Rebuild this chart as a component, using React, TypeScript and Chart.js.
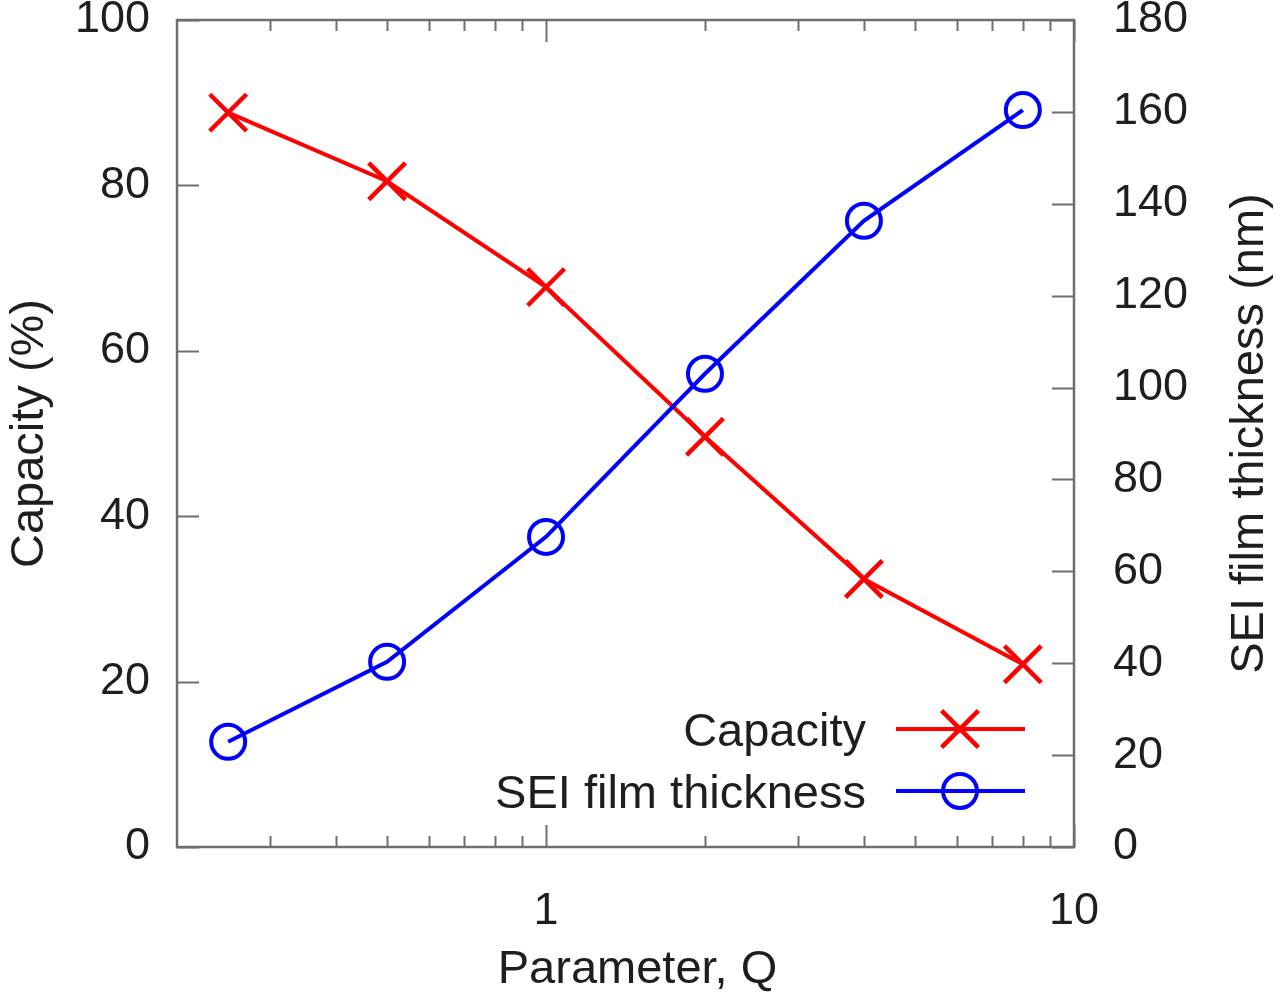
import React, { useEffect, useRef } from "react";
import { Chart, registerables } from "chart.js";

Chart.register(...registerables);

const Q_VALUES = [0.25, 0.5, 1, 2, 4, 8];
const CAPACITY = [88.8, 80.5, 67.7, 49.6, 32.4, 22.1];
const SEI_THICKNESS = [22.9, 40.3, 67.5, 103.0, 136.3, 160.4];

const X_MAJOR_TICKS = [1, 10];
const X_MINOR_TICKS = [0.3, 0.4, 0.5, 0.6, 0.7, 0.8, 0.9, 2, 3, 4, 5, 6, 7, 8, 9];
const Y_LEFT_TICKS = [0, 20, 40, 60, 80, 100];
const Y_RIGHT_TICKS = [0, 20, 40, 60, 80, 100, 120, 140, 160, 180];

const LABEL_CAPACITY = "Capacity";
const LABEL_SEI = "SEI film thickness";
const TITLE_X = "Parameter, Q";
const TITLE_Y_LEFT = "Capacity (%)";
const TITLE_Y_RIGHT = "SEI film thickness (nm)";

const RED = "#ff0000";
const BLUE = "#0000ff";
const FRAME = "#6e6e6e";
const TEXT = "#1e1e1e";
const FONT_FAMILY = "'Liberation Sans', Arial, Helvetica, sans-serif";
const TICK_FONT_SIZE = 45;
const TITLE_FONT_SIZE = 47;

const frameAndTicksPlugin = {
  id: "frameAndTicks",
  afterDatasetsDraw(chart: any) {
    const { ctx, chartArea } = chart;
    const { left, right, top, bottom } = chartArea;
    const x = chart.scales.x;
    const yl = chart.scales.y;
    const yr = chart.scales.y2;
    ctx.save();
    ctx.strokeStyle = FRAME;
    ctx.lineWidth = 2;
    ctx.lineCap = "butt";
    ctx.beginPath();
    const major = 22;
    const minor = 11;
    X_MAJOR_TICKS.forEach((v) => {
      const px = Math.round(x.getPixelForValue(v)) + 0.5;
      ctx.moveTo(px, bottom);
      ctx.lineTo(px, bottom - major);
      ctx.moveTo(px, top);
      ctx.lineTo(px, top + major);
    });
    X_MINOR_TICKS.forEach((v) => {
      const px = Math.round(x.getPixelForValue(v)) + 0.5;
      ctx.moveTo(px, bottom);
      ctx.lineTo(px, bottom - minor);
      ctx.moveTo(px, top);
      ctx.lineTo(px, top + minor);
    });
    Y_LEFT_TICKS.forEach((v) => {
      const py = Math.round(yl.getPixelForValue(v)) + 0.5;
      ctx.moveTo(left, py);
      ctx.lineTo(left + major, py);
    });
    Y_RIGHT_TICKS.forEach((v) => {
      const py = Math.round(yr.getPixelForValue(v)) + 0.5;
      ctx.moveTo(right, py);
      ctx.lineTo(right - major, py);
    });
    ctx.stroke();
    ctx.lineWidth = 2.5;
    ctx.strokeRect(left, top, right - left, bottom - top);
    ctx.restore();
  },
  afterDraw(chart: any) {
    const { ctx, chartArea } = chart;
    ctx.save();
    ctx.font = `${TITLE_FONT_SIZE}px ${FONT_FAMILY}`;
    ctx.fillStyle = TEXT;
    ctx.textAlign = "center";
    ctx.textBaseline = "middle";
    // x axis title
    ctx.fillText(TITLE_X, (chartArea.left + chartArea.right) / 2 + 12, 970);
    // right axis title, reading bottom to top
    ctx.translate(1250, (chartArea.top + chartArea.bottom) / 2);
    ctx.rotate(-Math.PI / 2);
    ctx.fillText(TITLE_Y_RIGHT, 0, 0);
    ctx.restore();

    const rows = [
      { ds: chart.data.datasets[0], lineY: 729, textY: 746 },
      { ds: chart.data.datasets[1], lineY: 791, textY: 808 },
    ];
    const textRight = 866;
    const lineStart = 896;
    const lineEnd = 1025;
    const markX = 960;
    ctx.save();
    ctx.font = `${TITLE_FONT_SIZE}px ${FONT_FAMILY}`;
    ctx.textAlign = "right";
    ctx.textBaseline = "alphabetic";
    rows.forEach((r) => {
      const ds = r.ds;
      ctx.fillStyle = TEXT;
      ctx.fillText(ds.label, textRight, r.textY);
      ctx.strokeStyle = ds.borderColor;
      ctx.lineWidth = ds.borderWidth;
      ctx.beginPath();
      ctx.moveTo(lineStart, r.lineY);
      ctx.lineTo(lineEnd, r.lineY);
      ctx.stroke();
      ctx.lineWidth = ds.pointBorderWidth;
      ctx.beginPath();
      if (ds.pointStyle === "crossRot") {
        const o = Math.cos(Math.PI / 4) * ds.pointRadius;
        ctx.moveTo(markX - o, r.lineY - o);
        ctx.lineTo(markX + o, r.lineY + o);
        ctx.moveTo(markX - o, r.lineY + o);
        ctx.lineTo(markX + o, r.lineY - o);
      } else {
        ctx.arc(markX, r.lineY, ds.pointRadius, 0, Math.PI * 2);
      }
      ctx.stroke();
    });
    ctx.restore();
  },
};

export default function App() {
  const canvasRef = useRef<HTMLCanvasElement | null>(null);

  useEffect(() => {
    const canvas = canvasRef.current;
    if (!canvas) return;
    const tickFont = { family: FONT_FAMILY, size: TICK_FONT_SIZE };
    const titleFont = { family: FONT_FAMILY, size: TITLE_FONT_SIZE };
    const chart = new Chart(canvas, {
      type: "line",
      data: {
        datasets: [
          {
            label: LABEL_CAPACITY,
            data: Q_VALUES.map((q, i) => ({ x: q, y: CAPACITY[i] })),
            borderColor: RED,
            backgroundColor: RED,
            borderWidth: 4,
            pointStyle: "crossRot",
            pointRadius: 26,
            pointBorderWidth: 4.5,
            pointBorderColor: RED,
            pointBackgroundColor: "rgba(0,0,0,0)",
            yAxisID: "y",
            tension: 0,
            order: 1,
          },
          {
            label: LABEL_SEI,
            data: Q_VALUES.map((q, i) => ({ x: q, y: SEI_THICKNESS[i] })),
            borderColor: BLUE,
            backgroundColor: BLUE,
            borderWidth: 4,
            pointStyle: "circle",
            pointRadius: 17,
            pointBorderWidth: 4,
            pointBorderColor: BLUE,
            pointBackgroundColor: "rgba(0,0,0,0)",
            yAxisID: "y2",
            tension: 0,
            order: 0,
          },
        ] as any,
      },
      plugins: [frameAndTicksPlugin],
      options: {
        animation: false,
        responsive: false,
        events: [],
        layout: { autoPadding: false, padding: { top: 20, left: 0, right: 0, bottom: 0 } },
        plugins: {
          legend: { display: false },
          tooltip: { enabled: false },
        },
        scales: {
          x: {
            type: "logarithmic",
            min: 0.2,
            max: 10,
            grid: { display: false, drawTicks: false },
            border: { display: false },
            afterBuildTicks: (scale: any) => {
              scale.ticks = X_MAJOR_TICKS.map((v) => ({ value: v, major: true }));
            },
            ticks: {
              font: tickFont,
              color: TEXT,
              padding: 38,
              maxRotation: 0,
              autoSkip: false,
              callback: (v: any) => String(v),
            },
            title: { display: false },
            afterFit: (scale: any) => {
              scale.height = 157;
              scale.paddingLeft = 0;
              scale.paddingRight = 0;
            },
          },
          y: {
            type: "linear",
            position: "left",
            min: 0,
            max: 100,
            grid: { display: false, drawTicks: false },
            border: { display: false },
            afterBuildTicks: (scale: any) => {
              scale.ticks = Y_LEFT_TICKS.map((v) => ({ value: v }));
            },
            ticks: { font: tickFont, color: TEXT, padding: 27 },
            title: {
              display: true,
              text: TITLE_Y_LEFT,
              font: titleFont,
              color: TEXT,
              padding: { top: 2, bottom: 0 },
            },
            afterFit: (scale: any) => {
              scale.width = 177;
              scale.paddingTop = 0;
              scale.paddingBottom = 0;
            },
          },
          y2: {
            type: "linear",
            position: "right",
            min: 0,
            max: 180,
            grid: { display: false, drawTicks: false },
            border: { display: false },
            afterBuildTicks: (scale: any) => {
              scale.ticks = Y_RIGHT_TICKS.map((v) => ({ value: v }));
            },
            ticks: { font: tickFont, color: TEXT, padding: 39 },
            title: { display: false },
            afterFit: (scale: any) => {
              scale.width = 206;
              scale.paddingTop = 0;
              scale.paddingBottom = 0;
            },
          },
        },
      } as any,
    });
    return () => chart.destroy();
  }, []);

  return (
    <canvas
      ref={canvasRef}
      width={1280}
      height={1004}
      style={{ position: "absolute", left: 0, top: 0, display: "block", background: "#ffffff" }}
    />
  );
}
